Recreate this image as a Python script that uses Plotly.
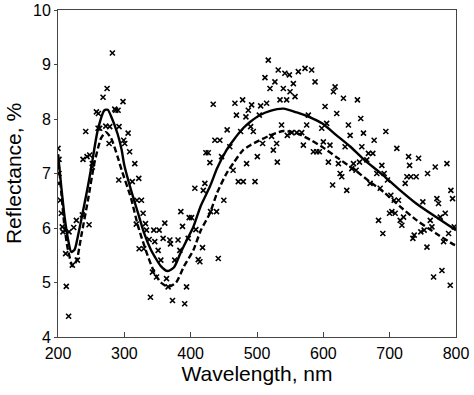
import plotly.graph_objects as go

# Measured scatter points (wavelength nm, reflectance %)
scatter_x = [200, 201.5, 201.5, 201.5, 203.5, 205, 206.5, 207.5, 211.5, 212.5, 216, 216.6, 221.6, 223.7, 227.7, 229.2,
             236.7, 237.7, 241.8, 243.8, 246.8, 247.8, 251.8, 251.8, 257.9, 260.4, 260.9, 262.9, 267.9, 272, 274, 278,
             277, 282, 285.6, 287, 290.6, 291.6, 292, 298, 299, 300.6, 305.7, 308, 312, 315.8, 318, 319, 321.8, 322.3,
             325.8, 328.3, 329.3, 331.9, 333.4, 337.4, 339.4, 342.4, 344.4, 345.9, 348.5, 351, 352.5, 355, 358.5, 361,
             363.6, 366, 368.6, 369.6, 372.6, 376, 381, 383.7, 385.2, 387.7, 391, 393.8, 396.3, 397.8, 401.3, 406.3,
             407.8, 411.4, 413.9, 417.9, 419, 421.4, 423, 426.5, 429, 430, 434, 436.5, 439, 441.6, 444, 446.6, 450, 455,
             459, 464, 466.7, 469, 471.8, 475.3, 478.3, 479.3, 483.3, 484.3, 486.9, 490.4, 491.9, 494.4, 497, 500.5,
             503.5, 505.5, 508.5, 512, 514.5, 517, 519.6, 522, 524.6, 527, 529.6, 530.6, 532, 534.7, 537, 539.7, 542,
             544.7, 545.7, 548.8, 549.8, 552.3, 554.8, 557.3, 559.8, 562.3, 567.4, 569.9, 572.4, 574.9, 577.4, 582.4,
             585, 587.5, 590, 594, 597.6, 600, 602.6, 605, 607.6, 610, 614, 615.2, 617.7, 620.2, 622.7, 625.3, 627.8,
             630.3, 632.8, 635.3, 637.8, 640.4, 642.9, 645.4, 649.4, 651.4, 654.5, 656.4, 658, 660.5, 665.5, 668, 670.5,
             674.6, 676.6, 680.6, 683.2, 685.7, 688.2, 689.7, 691.7, 694.2, 696.7, 699.8, 701.8, 703.3, 706.8, 708.3,
             710.8, 713.3, 715.9, 718.4, 720.9, 723.4, 726, 728.5, 730, 732, 735, 737, 740, 743.6, 747, 750, 752, 756.2,
             757.1, 761.2, 763.7, 766.2, 768.7, 771.2, 773.6, 776.3, 778.8, 781.3, 783.8, 786.3, 788.8, 791.3, 792.3,
             794.8, 797.3]
scatter_y = [7.46, 7.26, 7.0, 6.82, 6.51, 6.27, 6.02, 5.93, 5.53, 4.93, 4.38, 5.93, 5.32, 6.01, 6.14, 5.41,
             6.24, 7.26, 7.77, 7.31, 6.06, 7.34, 7.18, 7.12, 8.13, 7.83, 8.10, 7.83, 8.40, 7.87, 8.56, 7.86,
             7.55, 9.21, 8.18, 8.16, 8.16, 6.88, 7.86, 8.32, 7.61, 7.55, 7.74, 7.40, 6.85, 7.18, 6.07, 6.51, 6.91, 5.62,
             6.51, 6.27, 5.62, 6.08, 5.96, 5.79, 4.73, 5.19, 5.96, 5.75, 5.10, 5.59, 5.96, 5.41, 5.81, 6.09,
             5.07, 4.92, 5.78, 5.71, 4.67, 5.41, 5.78, 5.59, 6.30, 6.03, 4.61, 4.92, 5.81, 6.19, 6.19, 6.73,
             5.97, 5.42, 5.38, 5.64, 6.69, 6.82, 7.38, 7.38, 7.20, 6.30, 8.27, 7.61, 6.30, 5.44, 7.61, 7.31, 6.51, 7.80,
             7.49, 7.06, 8.29, 8.07, 6.85, 7.77, 8.35, 6.85, 8.04, 7.18, 8.16, 7.86, 8.26, 7.77, 6.85, 7.31,
             8.07, 8.24, 7.55, 8.76, 8.29, 9.08, 8.56, 7.68, 7.43, 8.68, 7.55, 7.21, 8.90, 8.35, 7.89, 8.56, 8.84,
             8.35, 7.70, 8.81, 8.50, 7.75, 8.65, 8.41, 7.75, 8.87, 7.75, 7.52, 8.93, 7.89, 8.07, 8.90,
             7.40, 8.68, 7.40, 7.40, 7.83, 7.58, 8.23, 7.92, 7.21, 7.52, 6.79, 8.50, 8.59, 8.10, 7.18, 7.00, 6.94,
             8.38, 7.49, 6.69, 7.89, 7.70, 7.09, 7.18, 7.06, 8.35, 7.21, 8.01, 7.49, 7.74, 7.25, 7.37, 6.82,
             7.37, 7.61, 7.00, 6.14, 6.73, 7.15, 5.90, 7.00, 7.77, 6.88, 6.27, 6.60, 6.30, 6.51, 6.27,
             7.46, 6.51, 6.14, 6.05, 6.20, 6.82, 6.94, 7.31, 7.15, 6.94, 5.81, 5.87, 6.94, 7.28, 5.93, 6.48, 5.96, 5.65,
             7.00, 6.14, 6.02, 5.10, 7.12, 6.54, 6.45, 6.20, 5.22, 5.75, 6.27, 7.18, 5.90, 4.95, 6.69,
             6.54, 6.02]

# Solid fitted curve
solid_x = [200, 205, 210, 215, 220, 225, 230, 240, 245, 250, 260, 270, 275, 280, 290, 296, 300, 310, 320, 330,
           340, 346, 355, 365, 375, 385, 395, 404, 415, 429, 440, 454, 465, 479, 490, 504, 520, 540, 560, 580,
           598, 620, 640, 660, 690, 715, 740, 770, 796, 800]
solid_y = [7.35, 6.75, 6.2, 5.8, 5.56, 5.6, 5.85, 6.45, 6.76, 7.1, 7.8, 8.16, 8.17, 8.05, 7.72, 7.43, 7.15, 6.7,
           6.3, 5.9, 5.6, 5.47, 5.3, 5.21, 5.28, 5.55, 5.8, 6.02, 6.4, 6.76, 7.1, 7.43, 7.62, 7.83, 7.95, 8.07,
           8.15, 8.19, 8.12, 8.03, 7.92, 7.7, 7.5, 7.27, 6.97, 6.7, 6.45, 6.2, 5.99, 5.96]

# Dashed fitted curve
dashed_x = [200, 205, 210, 215, 222, 228, 235, 245, 255, 265, 272, 280, 290, 296, 310, 321, 335, 346, 355, 366,
            378, 390, 404, 415, 429, 440, 454, 465, 479, 490, 504, 520, 540, 560, 580, 598, 620, 648, 670, 691,
            715, 741, 770, 796, 800]
dashed_y = [7.35, 6.65, 6.0, 5.6, 5.30, 5.4, 5.85, 6.5, 7.2, 7.65, 7.76, 7.65, 7.3, 7.06, 6.55, 6.02, 5.5, 5.16,
            5.0, 4.92, 5.0, 5.3, 5.59, 5.95, 6.27, 6.65, 7.0, 7.2, 7.43, 7.52, 7.61, 7.7, 7.78, 7.74, 7.62, 7.49,
            7.3, 7.06, 6.85, 6.66, 6.4, 6.14, 5.9, 5.70, 5.68]

x_ticks = [200, 300, 400, 500, 600, 700, 800]
y_ticks = [4, 5, 6, 7, 8, 9, 10]

fig = go.Figure()
fig.add_trace(go.Scatter(
    x=scatter_x, y=scatter_y, mode="markers",
    marker=dict(symbol="x-thin-open", size=5, color="black", line=dict(color="black", width=1.6)),
    showlegend=False))
fig.add_trace(go.Scatter(
    x=solid_x, y=solid_y, mode="lines", line=dict(color="black", width=2.4, shape="spline", smoothing=0.6),
    showlegend=False))
fig.add_trace(go.Scatter(
    x=dashed_x, y=dashed_y, mode="lines",
    line=dict(color="black", width=2.4, dash="6px,3px", shape="spline", smoothing=0.6),
    showlegend=False))

font_family = "Liberation Sans, Arial, sans-serif"
fig.update_layout(
    width=474, height=395,
    margin=dict(l=58, r=18, t=10, b=58, autoexpand=False),
    paper_bgcolor="white", plot_bgcolor="white",
    font=dict(family=font_family, color="black", size=16),
    xaxis=dict(
        range=[200, 800], tickvals=x_ticks, ticktext=[str(v) for v in x_ticks],
        showgrid=False, zeroline=False, showline=True, linecolor="#444", linewidth=1,
        mirror=True, ticks="inside", ticklen=5, tickcolor="#444", automargin=False,
        tickfont=dict(size=16), ticklabelstandoff=2,
        title=dict(text="Wavelength, nm", font=dict(size=21), standoff=4),
    ),
    yaxis=dict(
        range=[4, 10], tickvals=y_ticks, ticktext=[str(v) for v in y_ticks],
        showgrid=False, zeroline=False, showline=True, linecolor="#444", linewidth=1,
        mirror=True, ticks="outside", ticklen=3, tickcolor="#444", automargin=False,
        tickfont=dict(size=16),
        title=dict(text="Reflectance, %", font=dict(size=21), standoff=5),
    ),
)

fig.write_html("out.html", config={"displayModeBar": False},
               post_script="document.body.style.margin='0px';document.body.style.padding='0px';")
